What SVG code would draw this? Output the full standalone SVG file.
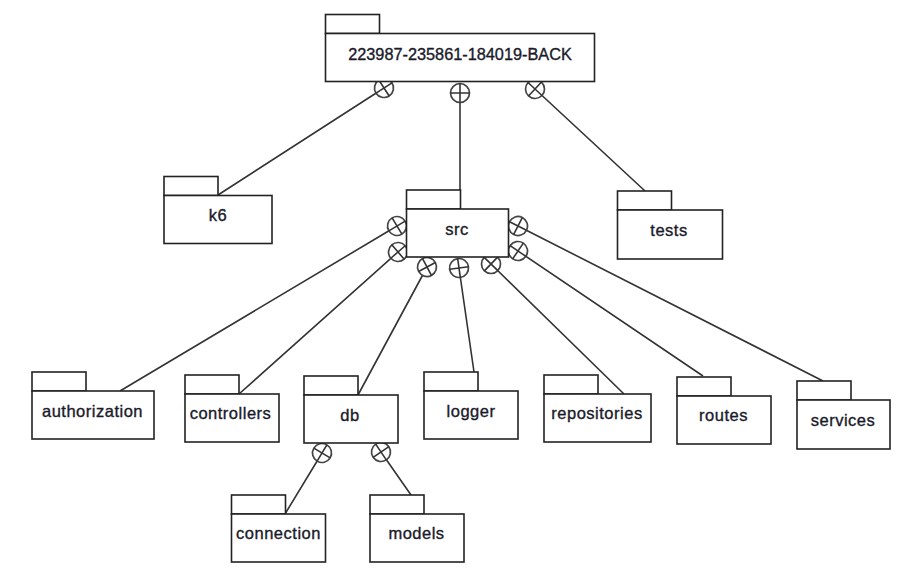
<svg xmlns="http://www.w3.org/2000/svg" width="901" height="581" viewBox="0 0 901 581">
<style>
.p{fill:#fff;stroke:#222;stroke-width:1.6}
.l{fill:none;stroke:#333;stroke-width:1.6}
.c{fill:#fff;stroke:#444;stroke-width:1.7}
text{font-family:"Liberation Sans",Arial,sans-serif;font-size:16.5px;letter-spacing:.5px;fill:#1a1a2a;text-anchor:middle;stroke:#1a1a2a;stroke-width:.35}
.r{font-size:16.3px;letter-spacing:0}
</style>
<defs>
<g id="x"><circle class="c" r="9.5"/><path class="l" d="M-9.5 0H9.5M0-9.500V9.500"/></g>
</defs>
<rect width="901" height="581" fill="#fff"/>
<g id="connectors">
<path class="l" d="M384 88 218 195M460 93V209M535 89 645 191M397 226 120 391M398 252 239 394M427 267 358 395M459 268 474 372M491 264 624 394M518 251 703 376M518 226 823 381M322 453 285 514M381 452 411 495"/>
<use href="#x" transform="translate(384 88) rotate(-33)"/>
<use href="#x" transform="translate(460 93)"/>
<use href="#x" transform="translate(535 89) rotate(43)"/>
<use href="#x" transform="translate(397 226) rotate(-31)"/>
<use href="#x" transform="translate(398 252) rotate(-41)"/>
<use href="#x" transform="translate(427 267) rotate(-28)"/>
<use href="#x" transform="translate(459 268) rotate(-8)"/>
<use href="#x" transform="translate(491 264) rotate(44)"/>
<use href="#x" transform="translate(518 226) rotate(27)"/>
<use href="#x" transform="translate(518 251) rotate(34)"/>
<use href="#x" transform="translate(322 453) rotate(31)"/>
<use href="#x" transform="translate(381 452) rotate(-34)"/>
</g>
<g id="root"><rect class="p" x="325.5" y="14.5" width="54" height="19"/><rect class="p" x="325.5" y="33.5" width="269" height="48"/><text class="r" x="460" y="59.500">223987-235861-184019-BACK</text></g>
<g id="k6"><rect class="p" x="164" y="176.5" width="54" height="19"/><rect class="p" x="164" y="195.5" width="108" height="48"/><text x="218" y="221">k6</text></g>
<g id="tests"><rect class="p" x="617.5" y="191" width="54" height="19"/><rect class="p" x="617.5" y="210" width="105" height="49"/><text x="669" y="236">tests</text></g>
<g id="src"><rect class="p" x="406.500" y="190" width="54" height="19"/><rect class="p" x="406.500" y="209" width="102" height="48"/><text x="457" y="235">src</text></g>
<g id="authorization"><rect class="p" x="32" y="372" width="54" height="19"/><rect class="p" x="32" y="391" width="122" height="48"/><text x="92.500" y="417">authorization</text></g>
<g id="controllers"><rect class="p" x="185" y="375" width="54" height="19"/><rect class="p" x="185" y="394" width="94" height="48"/><text x="230.500" y="419">controllers</text></g>
<g id="db"><rect class="p" x="304" y="376" width="54" height="19"/><rect class="p" x="304" y="395" width="94" height="48"/><text x="350" y="421">db</text></g>
<g id="logger"><rect class="p" x="424" y="372" width="54" height="19"/><rect class="p" x="424" y="391" width="94" height="48"/><text x="471" y="417">logger</text></g>
<g id="repositories"><rect class="p" x="544" y="375" width="54" height="19"/><rect class="p" x="544" y="394" width="107" height="48"/><text x="597" y="419">repositories</text></g>
<g id="routes"><rect class="p" x="677" y="377" width="54" height="19"/><rect class="p" x="677" y="396" width="94" height="48"/><text x="723.500" y="421">routes</text></g>
<g id="services"><rect class="p" x="797" y="381" width="54" height="19"/><rect class="p" x="797" y="400" width="93" height="49"/><text x="843" y="426">services</text></g>
<g id="connection"><rect class="p" x="231.500" y="495" width="54" height="19"/><rect class="p" x="231.500" y="514" width="94" height="48"/><text x="278.500" y="539">connection</text></g>
<g id="models"><rect class="p" x="370" y="495" width="54" height="19"/><rect class="p" x="370" y="514" width="94" height="48"/><text x="416.500" y="539">models</text></g>
</svg>
